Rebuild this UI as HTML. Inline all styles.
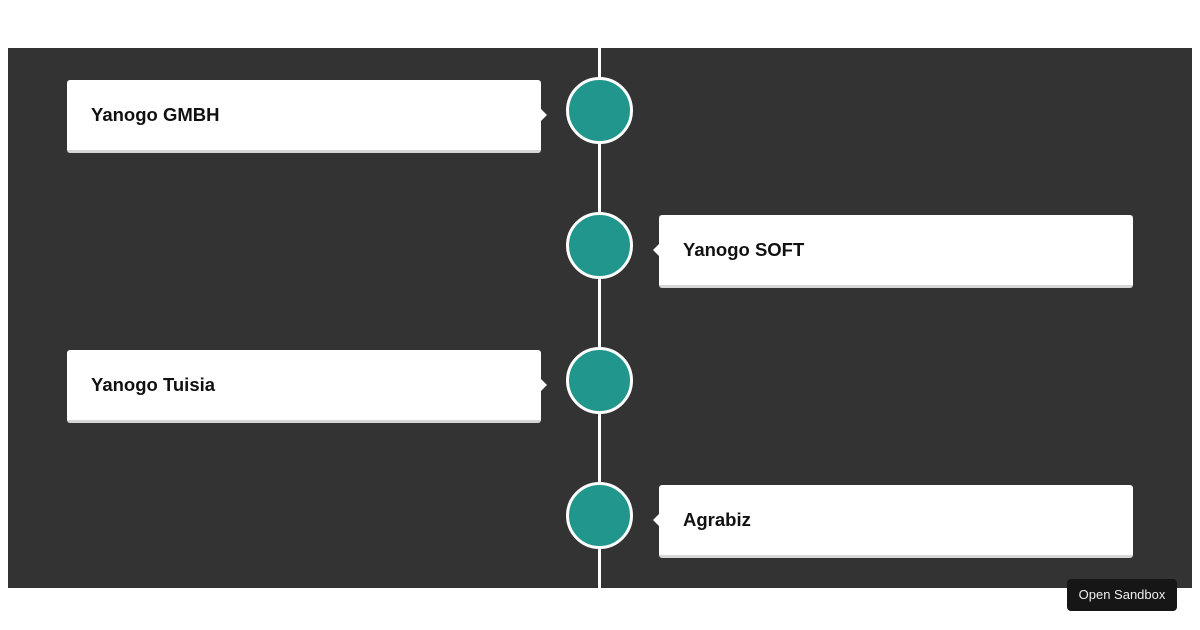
<!DOCTYPE html>
<html><head><style>
body{margin:0;width:1200px;height:630px;background:#fff;position:relative;overflow:hidden;font-family:"Liberation Sans",Arial,sans-serif}
.panel{position:absolute;left:8px;top:48px;width:1184px;height:540px;background:#333}
.line{position:absolute;left:598px;top:48px;width:3px;height:540px;background:#fff}
.dot{position:absolute;width:61px;height:61px;border:3px solid #fff;border-radius:50%;background:#21968c;left:566px}
.card{position:absolute;width:474px;height:70px;background:#fff;border-radius:3px;border-bottom:3px solid #d6d6d6;box-sizing:content-box}
.card span{position:absolute;left:24px;top:24px;font-weight:bold;font-size:18.5px;color:#111}
.card.l::after{content:"";position:absolute;right:-6px;top:29px;border:6px solid transparent;border-left:6px solid #fff;border-right:0}
.card.r::after{content:"";position:absolute;left:-6px;top:29px;border:6px solid transparent;border-right:6px solid #fff;border-left:0}
.btn{position:absolute;left:1067px;top:579px;width:110px;height:32px;background:#161616;border-radius:4px;color:#eee;font-size:13px;line-height:32px;text-align:center}
</style></head><body>
<div class="panel"></div><div class="line"></div>
<div class="card l" style="left:67px;top:80px"><span>Yanogo GMBH</span></div>
<div class="card r" style="left:659px;top:215px"><span>Yanogo SOFT</span></div>
<div class="card l" style="left:67px;top:350px"><span>Yanogo Tuisia</span></div>
<div class="card r" style="left:659px;top:485px"><span>Agrabiz</span></div>
<div class="dot" style="top:77px"></div>
<div class="dot" style="top:212px"></div>
<div class="dot" style="top:347px"></div>
<div class="dot" style="top:482px"></div>
<div class="btn">Open Sandbox</div>
</body></html>
